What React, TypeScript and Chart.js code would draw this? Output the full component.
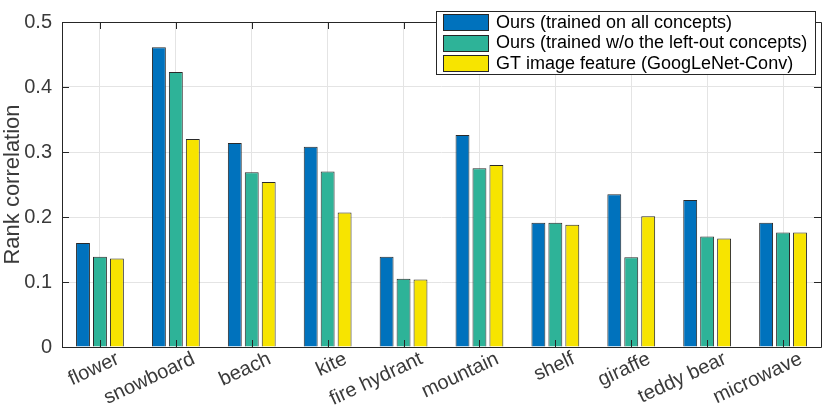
import React, { useEffect, useRef } from "react";
import { Chart, registerables } from "chart.js";

Chart.register(...registerables);

const categories = ["flower", "snowboard", "beach", "kite", "fire hydrant", "mountain", "shelf", "giraffe", "teddy bear", "microwave"];
const seriesNames = [
  "Ours (trained on all concepts)",
  "Ours (trained w/o the left-out concepts)",
  "GT image feature (GoogLeNet-Conv)",
];
const oursAll = [0.160, 0.461, 0.314, 0.308, 0.139, 0.326, 0.191, 0.235, 0.226, 0.191];
const oursLeftOut = [0.139, 0.423, 0.269, 0.270, 0.105, 0.275, 0.191, 0.138, 0.170, 0.176];
const gtFeature = [0.136, 0.320, 0.254, 0.207, 0.104, 0.280, 0.188, 0.201, 0.167, 0.176];
const yTicks = [0, 0.1, 0.2, 0.3, 0.4, 0.5];
const colors = ["#0072BD", "#2EB398", "#F7E400"];

const FONT = "'Liberation Sans', Arial, Helvetica, sans-serif";
const AXIS = "#262626";
const TEXT = "#3a3a3a";

const framePlugin = {
  id: "frame",
  afterDatasetsDraw(chart: any) {
    const { ctx, chartArea } = chart;
    const { left, right, top, bottom } = chartArea;
    ctx.save();
    ctx.strokeStyle = AXIS;
    ctx.lineWidth = 1;
    ctx.beginPath();
    ctx.rect(Math.round(left) + 0.5, Math.round(top) + 0.5, Math.round(right - left), Math.round(bottom - top));
    ctx.stroke();
    const tl = 7;
    const xs = chart.scales.x;
    for (let i = 0; i < categories.length; i++) {
      const x = Math.round(xs.getPixelForValue(i)) + 0.5;
      ctx.beginPath();
      ctx.moveTo(x, bottom);
      ctx.lineTo(x, bottom - tl);
      ctx.moveTo(x, top);
      ctx.lineTo(x, top + tl);
      ctx.stroke();
    }
    const ys = chart.scales.y;
    for (const v of yTicks) {
      const y = Math.round(ys.getPixelForValue(v)) + 0.5;
      ctx.beginPath();
      ctx.moveTo(left, y);
      ctx.lineTo(left + tl, y);
      ctx.moveTo(right, y);
      ctx.lineTo(right - tl, y);
      ctx.stroke();
    }
    // rotated category labels
    ctx.fillStyle = TEXT;
    ctx.font = `20px ${FONT}`;
    ctx.textAlign = "right";
    ctx.textBaseline = "middle";
    const ang = (-25 * Math.PI) / 180;
    for (let i = 0; i < categories.length; i++) {
      const x = xs.getPixelForValue(i);
      ctx.save();
      ctx.translate(x + 18, bottom + 11);
      ctx.rotate(ang);
      ctx.fillText(categories[i], 0, 0);
      ctx.restore();
    }
    // legend
    const bx = 436.5, by = 11.5, bw = 379, bh = 63;
    ctx.fillStyle = "#ffffff";
    ctx.fillRect(bx, by, bw, bh);
    ctx.strokeStyle = AXIS;
    ctx.strokeRect(bx, by, bw, bh);
    ctx.font = `18px ${FONT}`;
    ctx.textBaseline = "middle";
    ctx.textAlign = "left";
    chart.data.datasets.forEach((ds: any, i: number) => {
      const cy = 22 + i * 20.5;
      ctx.fillStyle = ds.backgroundColor;
      ctx.fillRect(443.5, Math.round(cy - 8) + 0.5, 45, 16);
      ctx.strokeStyle = AXIS;
      ctx.strokeRect(443.5, Math.round(cy - 8) + 0.5, 45, 16);
      ctx.fillStyle = "#000000";
      ctx.fillText(ds.label, 496, cy + 1);
    });
    ctx.restore();
  },
};

export default function App() {
  const ref = useRef<HTMLCanvasElement | null>(null);
  useEffect(() => {
    document.body.style.margin = "0";
    const canvas = ref.current!;
    const data = [oursAll, oursLeftOut, gtFeature];
    const chart = new Chart(canvas, {
      type: "bar",
      data: {
        labels: categories,
        datasets: data.map((d, i) => ({
          label: seriesNames[i],
          data: d,
          backgroundColor: colors[i],
          borderColor: "#2a2a2a",
          borderWidth: 1,
          categoryPercentage: 0.67,
          barPercentage: 0.82,
        })),
      },
      options: {
        animation: false,
        responsive: false,
        maintainAspectRatio: false,
        layout: { padding: { top: 7, right: 3, left: 0, bottom: 0 } },
        plugins: { legend: { display: false }, tooltip: { enabled: false } },
        scales: {
          x: {
            offset: true,
            grid: { offset: false, color: "#e4e4e4", drawTicks: false },
            border: { display: false },
            ticks: { display: false },
            afterFit(scale: any) {
              scale.height = 63;
            },
          },
          y: {
            min: 0,
            max: 0.5,
            grid: { color: "#e4e4e4", drawTicks: false },
            border: { display: false },
            afterBuildTicks(scale: any) {
              scale.ticks = yTicks.map((v) => ({ value: v }));
            },
            ticks: {
              color: TEXT,
              font: { family: FONT, size: 20 },
              padding: 10,
              callback: (v: any) => String(Number(v)),
            },
            title: {
              display: true,
              text: "Rank correlation",
              color: TEXT,
              font: { family: FONT, size: 22 },
              padding: 0,
            },
            afterFit(scale: any) {
              scale.width = 62;
            },
          },
        },
      },
      plugins: [framePlugin],
    });
    return () => chart.destroy();
  }, []);
  return (
    <div style={{ width: 824, height: 410 }}>
      <canvas ref={ref} width={824} height={410} style={{ display: "block" }} />
    </div>
  );
}
